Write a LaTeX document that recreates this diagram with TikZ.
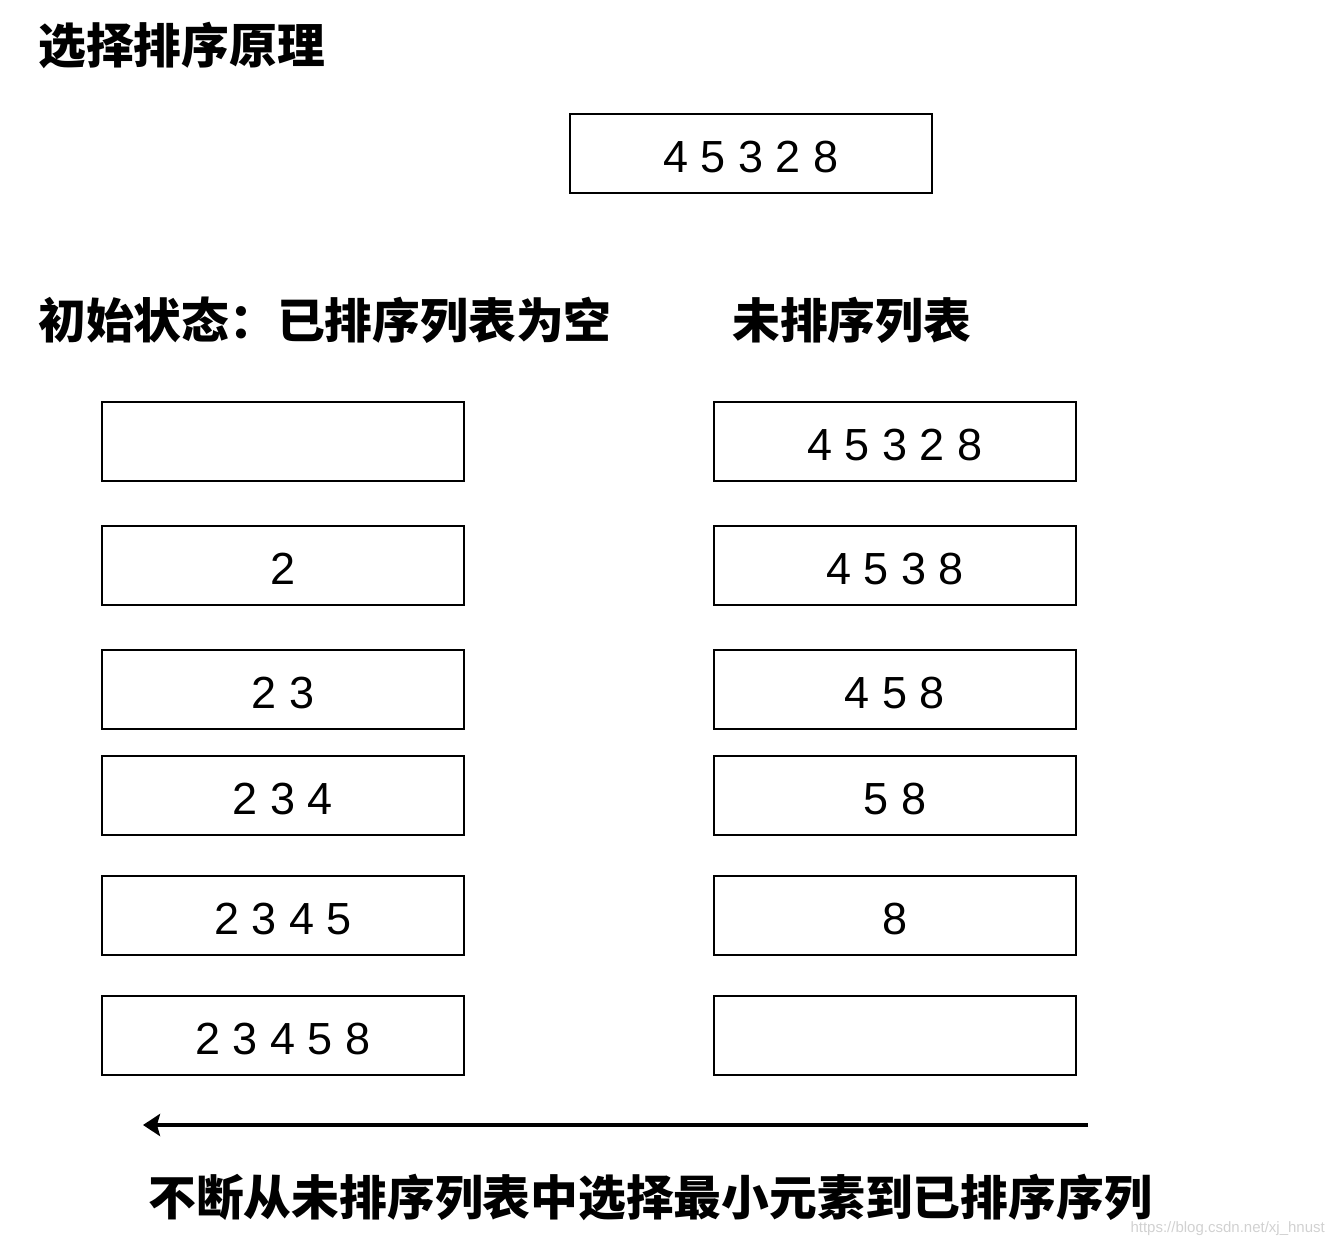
\documentclass[tikz,border=0pt]{standalone}
\usepackage{fontspec}
\setmainfont{Liberation Sans}
\newfontfamily\cjk{Noto Sans CJK SC}
\usetikzlibrary{arrows.meta}
\tikzset{
  listbox/.style={draw, line width=2pt, minimum width=362pt, minimum height=79pt,
    inner sep=0pt, text height=38pt, font=\fontsize{45}{50}\selectfont},
  cjklabel/.style={anchor=west, inner sep=0pt,
    font=\cjk\bfseries\fontsize{47.8}{50}\selectfont}
}
\begin{document}
\begin{tikzpicture}[x=1pt,y=-1pt]
    \useasboundingbox (0,0) rectangle (1334,1248);
    \node [cjklabel] (title) at (38,45) {选择排序原理};
    \node [listbox] (src) at (751,153.5) {4 5 3 2 8};
    \node [cjklabel] (sortedhead) at (38,320) {初始状态：已排序列表为空};
    \node [cjklabel] (unsortedhead) at (732,320) {未排序列表};
    % one row per step: sorted part left, unsorted part right
    \foreach \i/\y/\l/\r in {1/441.5/{}/{4 5 3 2 8}, 2/565.5/{2}/{4 5 3 8},
                             3/689.5/{2 3}/{4 5 8}, 4/795.5/{2 3 4}/{5 8},
                             5/915.5/{2 3 4 5}/{8}, 6/1035.5/{2 3 4 5 8}/{}}
    {
    \node [listbox] (sorted\i) at (283,\y) {\l};
    \node [listbox] (unsorted\i) at (895,\y) {\r};
    }
    \coordinate (arrowstart) at (1088,1125);
    \coordinate (arrowend) at (143,1125);
    \draw [-{Stealth[length=17pt,width=22pt,inset=3pt]}, line width=3.5pt] (arrowstart) -- (arrowend);
    \node [cjklabel] (footer) at (148,1197) {不断从未排序列表中选择最小元素到已排序序列};
    \node [anchor=east, inner sep=0pt, text=black!18, font=\fontsize{15}{18}\selectfont]
      (watermark) at (1325,1229) {https://blog.csdn.net/xj\_hnust};
\end{tikzpicture}
\end{document}
